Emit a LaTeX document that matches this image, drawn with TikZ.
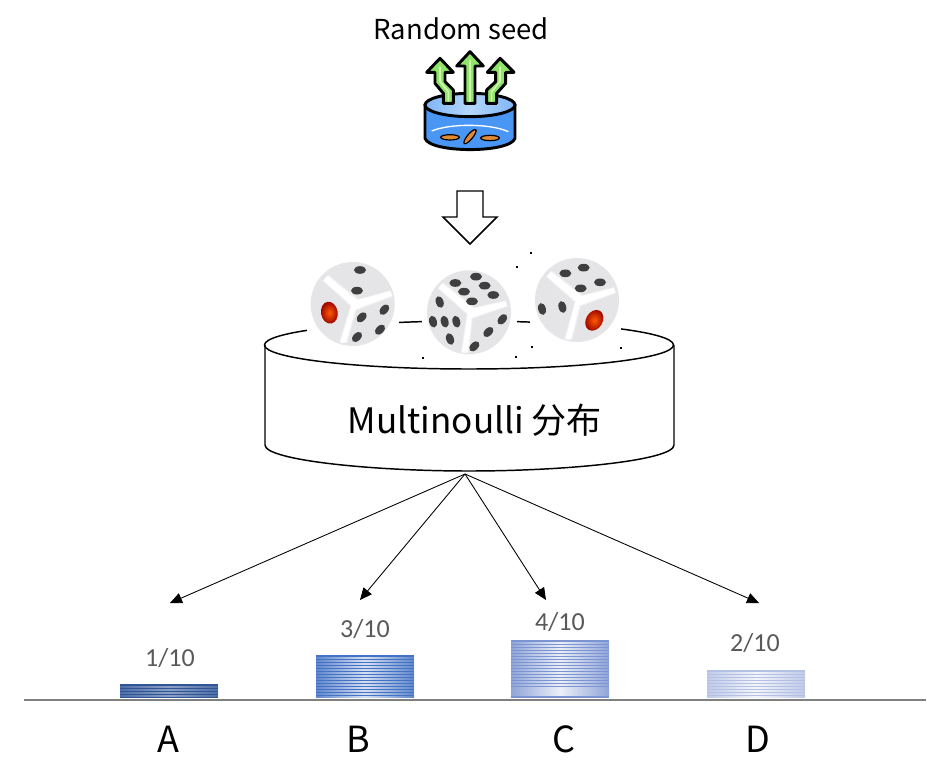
\documentclass[tikz,border=0pt]{standalone}
\usepackage{fontspec}
\setmainfont{Noto Sans CJK SC}
\newfontfamily\numfont{Carlito}
\definecolor{pipc}{HTML}{3E3F3E}
\definecolor{facec}{HTML}{E5E5E7}
\definecolor{ridgec}{HTML}{F1F1F3}
\definecolor{barA}{HTML}{2F5597}
\definecolor{barB}{HTML}{4472C4}
\definecolor{barC}{HTML}{7C94D2}
\definecolor{barD}{HTML}{B4C1E4}
\definecolor{numc}{HTML}{595959}
\definecolor{leaf}{HTML}{8EE56A}
\definecolor{leaflight}{HTML}{D6F7B0}
\definecolor{tubb}{HTML}{4A96F5}
\definecolor{tubt}{HTML}{B4D6FB}
\definecolor{seedc}{HTML}{E08A35}
\usetikzlibrary{arrows.meta}
\tikzset{
 zoomA/.style={shift={(400,40)},x=0.25pt,y=-0.25pt},
 zoomB/.style={shift={(290,240)},x=0.25pt,y=-0.25pt},
 lab/.style={inner sep=0pt,font=\fontsize{27pt}{30pt}\selectfont},
 num/.style={inner sep=0pt,text=numc,font=\numfont\fontsize{19.5pt}{21pt}\selectfont},
 ptr/.style={-{Stealth[length=9pt,width=8pt,inset=0pt]},line width=0.65pt},
 speck/.style={fill=black,inner sep=0pt,minimum size=1pt},
 greenarrow/.style={fill=leaf,draw=black,line width=2.2pt,line join=round},
 seedshape/.style={fill=seedc,draw=black,line width=.9pt},
}
\newcommand{\pip}[3]{\fill[pipc,shift={(#1,#2)},rotate=#3] (0,0) ellipse [x radius=18,y radius=11.5];}
\newcommand{\redpip}[3]{\shade[inner color=orange!70!red,outer color=red!60!black,shift={(#1,#2)},rotate=#3] (0,0) ellipse [x radius=33,y radius=25];}
\newcommand{\dieface}[8]{%
 \fill[facec] (#1,#2) circle [radius=126];
 \fill[ridgec] (#1-7,#2+6) -- (#3-7,#4+11) -- (#3+10,#4-8) -- (#1+17,#2-15) -- (#7-4,#8-9) -- (#7+3,#8+10) -- (#1+11,#2+19) -- (#5+12,#6-2) -- (#5-13,#6-2) -- cycle;
 \fill[white] (#1-4,#2+4) -- (#3-4,#4+9) -- (#3+7,#4-5) -- (#1+14,#2-12) -- (#7-4,#8-6) -- (#7+2,#8+7) -- (#1+8,#2+16) -- (#5+8,#6-2) -- (#5-9,#6-2) -- cycle;}
\newcommand{\stripebar}[6]{%
 \fill[#5] (#1,#2) rectangle (#3,#4);
 \foreach \kk in {1,...,20}{
  \pgfmathsetmacro{\yy}{#2+3.05*\kk-1}
  \pgfmathsetmacro{\ye}{\yy+1.2}
  \pgfmathparse{\ye<#4?1:0}
  \ifnum\pgfmathresult=1
  \shade[left color=#5!85!white,right color=#5!85!white,middle color=#5!#6!white] (#1,\yy) rectangle (#3,\ye);
  \fi
 }}
\begin{document}
\begin{tikzpicture}[x=0.75pt,y=-0.75pt]
\useasboundingbox (0,0) rectangle (927,784);
\fill[white] (0,0) rectangle (927,784);
% title
\node[font=\fontsize{20.6pt}{23pt}\selectfont,inner sep=0pt] (seedlabel) at (461,29) {Random seed};
% seed icon
\begin{scope}[zoomA]
 \path[fill=tubb,draw=black,line width=2.2pt] (75,195) -- (75,295) .. controls (90,340) and (330,340) .. (345,295) -- (345,195) -- cycle;
 \path[left color=tubb!70!white,right color=tubb!70!white,middle color=tubt,draw=black,line width=2.2pt] (210,195) ellipse [x radius=135,y radius=35];
 \draw[white,line width=1pt] (95,273) .. controls (150,250) and (270,250) .. (325,275);
 \path[seedshape] (150,292) ellipse [x radius=28,y radius=8];
 \path[seedshape,shift={(210,290)},rotate=50] (0,0) ellipse [x radius=27,y radius=8];
 \path[seedshape] (270,294) ellipse [x radius=28,y radius=8];
 \path[greenarrow] (210,35) -- (250,78) -- (225,78) -- (225,190) -- (195,190) -- (195,78) -- (170,78) -- cycle;
 \path[greenarrow] (120,55) -- (160,97) -- (135,97) -- (135,125) -- (160,150) -- (160,190) -- (130,190) -- (130,160) -- (105,130) -- (105,97) -- (80,97) -- cycle;
 \path[greenarrow] (300,55) -- (342,97) -- (317,97) -- (317,130) -- (290,160) -- (290,190) -- (260,190) -- (260,150) -- (287,125) -- (287,97) -- (262,97) -- cycle;
 \draw[leaflight,line width=1.2pt] (210,60) -- (210,185);
 \draw[leaflight,line width=1.2pt] (120,80) -- (120,125) -- (145,155) -- (145,185);
 \draw[leaflight,line width=1.2pt] (300,80) -- (300,125) -- (275,155) -- (275,185);
\end{scope}
% hollow arrow
\draw[line width=1.1pt,fill=white,line join=miter] (457,191) -- (483,191) -- (483,217) -- (497,217) -- (470,244) -- (443,217) -- (457,217) -- cycle;
% cylinder
\coordinate (cyltop) at (469,345);
\draw[line width=1.1pt,fill=white] (265,345) -- (265,445) .. controls (265,460) and (370,471) .. (469,471) .. controls (570,471) and (674,460) .. (674,445) -- (674,345);
\draw[line width=1.1pt] (cyltop) ellipse [x radius=204.5,y radius=24];
\node[inner sep=0pt,font=\fontsize{26.3pt}{30pt}\selectfont] (cyllabel) at (475,420) {Multinoulli 分布};
% gaps behind the dice
\fill[white] (307,255) rectangle (399,350);
\fill[white] (422,255) rectangle (517,362);
\fill[white] (530,250) rectangle (621,345);
% dice
\begin{scope}[zoomB]
 \dieface{188}{192}{105}{112}{160}{310}{305}{160}
 \pip{210}{90}{0}\pip{201}{152}{0}
 \redpip{118}{218}{-80}
 \pip{283}{209}{50}\pip{215}{232}{45}\pip{270}{269}{45}\pip{201}{291}{45}
 \dieface{537}{217}{450}{135}{525}{340}{650}{190}
 \pip{558}{110}{0}\pip{496}{129}{0}\pip{584}{137}{0}\pip{522}{155}{0}\pip{610}{165}{0}\pip{546}{184}{0}
 \pip{449}{186}{-70}\pip{429}{245}{-75}\pip{464}{245}{-75}\pip{499}{245}{-75}\pip{480}{297}{-70}
 \pip{637}{238}{50}\pip{595}{276}{45}\pip{553}{319}{45}
 \dieface{861}{180}{775}{100}{835}{300}{975}{150}
 \pip{826}{100}{0}\pip{881}{83}{0}\pip{872}{145}{0}\pip{930}{127}{0}
 \pip{756}{207}{-75}\pip{817}{201}{-75}
 \redpip{913}{241}{60}
\end{scope}
% specks
\node[speck] (s1) at (531,253) {};
\node[speck] (s2) at (517,267) {};
\node[speck] (s3) at (532,347) {};
\node[speck] (s4) at (423,358) {};
\node[speck] (s5) at (516,357) {};
\node[speck] (s6) at (621,348) {};
% connectors
\coordinate (src) at (465,474);
\coordinate (ta) at (170,603);
\coordinate (tb) at (360,600);
\coordinate (tc) at (546,600);
\coordinate (td) at (759,603);
\draw[ptr] (src) -- (ta);
\draw[ptr] (src) -- (tb);
\draw[ptr] (src) -- (tc);
\draw[ptr] (src) -- (td);
% bars
\stripebar{120}{684}{218}{698}{barA}{55}
\stripebar{316}{655}{414}{698}{barB}{22}
\stripebar{511}{640}{609}{698}{barC}{15}
\stripebar{707}{670}{805}{698}{barD}{15}
% axis
\coordinate (axl) at (24,700);
\coordinate (axr) at (926,700);
\draw[gray,line width=0.8pt] (axl) -- (axr);
% labels
\node[num] (n1) at (170,658) {1/10};
\node[num] (n3) at (365,629) {3/10};
\node[num] (n4) at (560,622) {4/10};
\node[num] (n2) at (755,643) {2/10};
\node[lab] (la) at (168,739) {A};
\node[lab] (lb) at (358,739) {B};
\node[lab] (lc) at (564,739) {C};
\node[lab] (ld) at (758,739) {D};
\end{tikzpicture}
\end{document}
